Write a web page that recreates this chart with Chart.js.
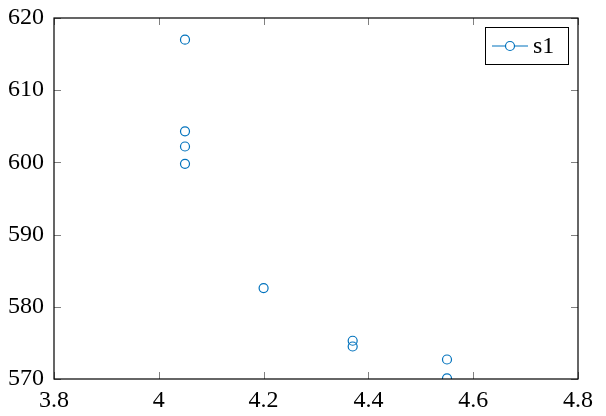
<!DOCTYPE html>
<html>
<head>
<meta charset="utf-8">
<script src="https://cdn.jsdelivr.net/npm/chart.js@4"></script>
<style>
    html, body { margin: 0; padding: 0; background: #fff; }
    #wrap { width: 606px; height: 416px; }
</style>
</head>
<body>
<div id="wrap"><canvas id="scatterChart"></canvas></div>
<script>
// data
const xValues = [4.05, 4.05, 4.05, 4.05, 4.2, 4.37, 4.37, 4.55, 4.55];
const yValues = [617.0, 604.3, 602.2, 599.8, 582.6, 575.3, 574.5, 572.7, 570.1];
const xTicks = [3.8, 4, 4.2, 4.4, 4.6, 4.8];
const yTicks = [570, 580, 590, 600, 610, 620];
const seriesName = 's1';

const blue = 'rgb(0, 114, 189)';
const fontFamily = '"Liberation Serif", "DejaVu Serif", serif';

const points = xValues.map((x, i) => ({ x: x, y: yValues[i] }));

// frame, inward ticks on all four sides, and the legend box
const framePlugin = {
    id: 'frame',
    afterDraw(chart) {
        const c = chart.ctx;
        const a = chart.chartArea;
        const xs = chart.scales.x;
        const ys = chart.scales.y;
        const len = 7;

        c.save();
        c.strokeStyle = '#808080';
        c.lineWidth = 1;
        c.beginPath();
        xTicks.forEach(t => {
            const px = Math.round(xs.getPixelForValue(t)) + 0.5;
            c.moveTo(px, a.bottom); c.lineTo(px, a.bottom - len);
            c.moveTo(px, a.top); c.lineTo(px, a.top + len);
        });
        yTicks.forEach(t => {
            const py = Math.round(ys.getPixelForValue(t)) + 0.5;
            c.moveTo(a.left, py); c.lineTo(a.left + len, py);
            c.moveTo(a.right, py); c.lineTo(a.right - len, py);
        });
        c.stroke();

        // axis box
        c.strokeStyle = '#000';
        c.lineWidth = 1.2;
        c.strokeRect(a.left, a.top, a.right - a.left, a.bottom - a.top);

        // legend
        const lx = 485, ly = 27, lw = 83, lh = 37;
        c.fillStyle = '#fff';
        c.fillRect(lx, ly, lw, lh);
        c.strokeStyle = '#000';
        c.lineWidth = 1;
        c.strokeRect(lx + 0.5, ly + 0.5, lw, lh);

        const my = ly + lh / 2 + 0.5;
        c.strokeStyle = blue;
        c.lineWidth = 1.2;
        c.beginPath();
        c.moveTo(lx + 7, my); c.lineTo(lx + 43, my);
        c.stroke();
        c.fillStyle = '#fff';
        c.beginPath();
        c.arc(lx + 25, my, 4.5, 0, Math.PI * 2);
        c.fill();
        c.stroke();

        c.fillStyle = '#000';
        c.font = '24px ' + fontFamily;
        c.textBaseline = 'middle';
        c.textAlign = 'left';
        c.fillText(seriesName, lx + 48, my + 1);
        c.restore();
    }
};

const ctx = document.getElementById('scatterChart').getContext('2d');
const scatterChart = new Chart(ctx, {
    type: 'scatter',
    data: {
        datasets: [{
            label: seriesName,
            data: points,
            showLine: false,
            pointStyle: 'circle',
            pointRadius: 4.5,
            pointHoverRadius: 4.5,
            borderColor: blue,
            backgroundColor: 'rgba(255, 255, 255, 0)',
            pointBorderWidth: 1.2
        }]
    },
    options: {
        responsive: true,
        maintainAspectRatio: false,
        animation: false,
        layout: {
            padding: { left: 0, top: 18, right: 28, bottom: 0 }
        },
        scales: {
            x: {
                type: 'linear',
                min: 3.8,
                max: 4.8,
                afterBuildTicks: scale => { scale.ticks = xTicks.map(v => ({ value: v })); },
                afterFit: scale => {
                    scale.height = 37;
                    scale.paddingLeft = 0;
                    scale.paddingRight = 0;
                },
                grid: { display: false, drawTicks: false },
                border: { display: false },
                ticks: {
                    color: '#000',
                    padding: 7,
                    font: { family: fontFamily, size: 24 },
                    callback: v => String(v)
                }
            },
            y: {
                type: 'linear',
                min: 570,
                max: 620,
                afterBuildTicks: scale => { scale.ticks = yTicks.map(v => ({ value: v })); },
                afterFit: scale => {
                    scale.width = 54;
                    scale.paddingTop = 0;
                    scale.paddingBottom = 0;
                },
                grid: { display: false, drawTicks: false },
                border: { display: false },
                ticks: {
                    color: '#000',
                    padding: 10,
                    font: { family: fontFamily, size: 24 },
                    callback: v => String(v)
                }
            }
        },
        plugins: {
            legend: { display: false },
            tooltip: { enabled: false }
        }
    },
    plugins: [framePlugin]
});
</script>
</body>
</html>
